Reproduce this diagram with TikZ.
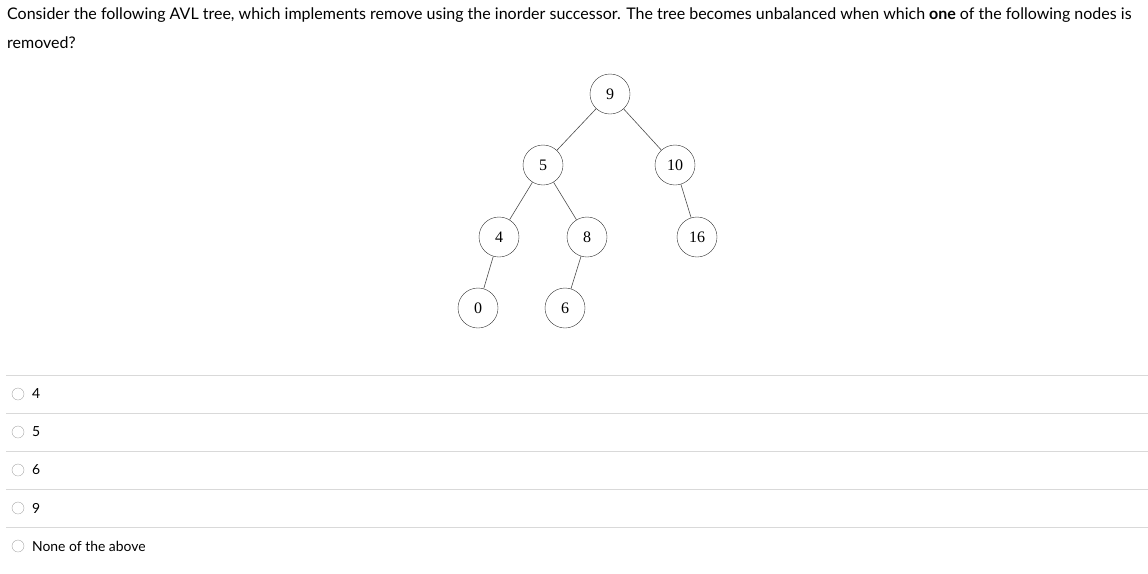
\documentclass[tikz,border=0pt]{standalone}
\usepackage{fontspec}
\setmainfont{Lato}
\newfontfamily\treefont{Liberation Serif}
\begin{document}
\begin{tikzpicture}[x=1pt,y=-1pt,
  tnode/.style={draw=black!80,circle,minimum size=40pt,inner sep=0pt,font=\treefont\fontsize{16}{16}\selectfont},
  edge/.style={draw=black!70,line width=0.6pt},
  sep/.style={draw=black!15,line width=0.8pt},
  radio/.style={draw=black!35,circle,minimum size=12pt,inner sep=0pt},
  opt/.style={anchor=west,font=\fontsize{13.9}{13.9}\selectfont,inner sep=0pt}]
\useasboundingbox (0,0) rectangle (1148,573);
\node[anchor=west,inner sep=0pt,font=\fontsize{16}{16}\selectfont] (q1) at (7,15) {Consider the following AVL tree, which implements remove using the inorder successor. The tree becomes unbalanced when which \textbf{one} of the following nodes is};
\node[anchor=west,inner sep=0pt,font=\fontsize{16}{16}\selectfont] (q2) at (7,43) {removed?};
\node[tnode] (n9) at (610,94) {9};
\node[tnode] (n5) at (543,165) {5};
\node[tnode] (n10) at (675,165) {10};
\node[tnode] (n4) at (499,237) {4};
\node[tnode] (n8) at (587,237) {8};
\node[tnode] (n16) at (697,237) {16};
\node[tnode] (n0) at (478,308) {0};
\node[tnode] (n6) at (565,308) {6};
\draw[edge] (n9)--(n5); \draw[edge] (n9)--(n10);
\draw[edge] (n5)--(n4); \draw[edge] (n5)--(n8);
\draw[edge] (n10)--(n16); \draw[edge] (n4)--(n0); \draw[edge] (n8)--(n6);
\foreach \y in {375,413,451,489,527}{\draw[sep] (6,\y)--(1148,\y);}
\node[radio] (r1) at (18,394) {}; \node[opt] (o1) at (32,394) {4};
\node[radio] (r2) at (18,432) {}; \node[opt] (o2) at (32,432) {5};
\node[radio] (r3) at (18,470) {}; \node[opt] (o3) at (32,470) {6};
\node[radio] (r4) at (18,508) {}; \node[opt] (o4) at (32,508) {9};
\node[radio] (r5) at (18,546) {}; \node[opt] (o5) at (32,546) {None of the above};
\end{tikzpicture}
\end{document}
